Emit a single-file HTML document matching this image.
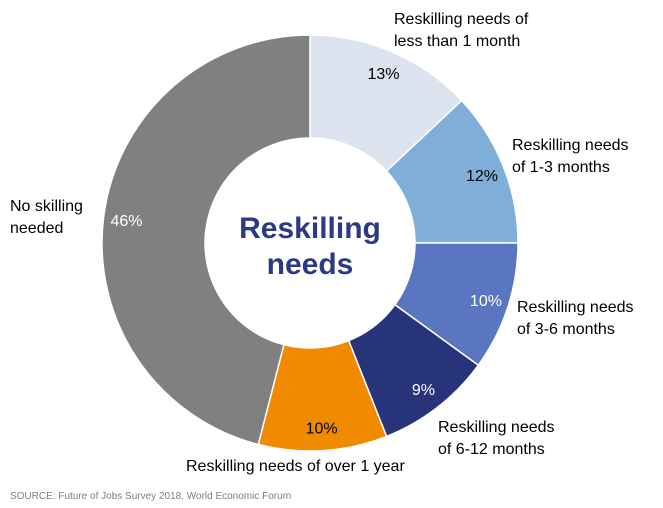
<!DOCTYPE html>
<html><head><meta charset="utf-8"><style>
body{margin:0;background:#fff;font-family:"Liberation Sans",Arial,sans-serif;}
svg{display:block}
</style></head><body>
<svg width="663" height="508">
<g id="slices"></g>
<g id="pcts"></g>
<g font-size="16" fill="#000">
<text x="394" y="24">Reskilling needs of</text>
<text x="394" y="46">less than 1 month</text>
<text x="512" y="150">Reskilling needs</text>
<text x="512" y="172">of 1-3 months</text>
<text x="517" y="312">Reskilling needs</text>
<text x="517" y="334">of 3-6 months</text>
<text x="438" y="432">Reskilling needs</text>
<text x="438" y="454">of 6-12 months</text>
<text x="186" y="471">Reskilling needs of over 1 year</text>
<text x="10" y="211">No skilling</text>
<text x="10" y="233">needed</text>
</g>
<text x="310" y="238" text-anchor="middle" font-size="30" font-weight="bold" fill="#2b3a84">Reskilling</text>
<text x="310" y="274" text-anchor="middle" font-size="30" font-weight="bold" fill="#2b3a84">needs</text>
<text x="10" y="499" font-size="10" fill="#7f7f7f">SOURCE: Future of Jobs Survey 2018, World Economic Forum</text>
</svg>
<script>
const categories=["Less than 1 month","1-3 months","3-6 months","6-12 months","Over 1 year","No skilling needed"];
const values=[13,12,10,9,10,46];
const pctLabels=["13%","12%","10%","9%","10%","46%"];
const colors=["#dce3ee","#7faed9","#5a76c0","#27347a","#f08a00","#808080"];
const textColors=["#000","#000","#fff","#fff","#000","#fff"];
const cx=310,cy=243,R=208,r=105,LR=185;
const NS="http://www.w3.org/2000/svg";
const total=values.reduce((a,b)=>a+b,0);
function pt(a,rad){return [cx+rad*Math.sin(a),cy-rad*Math.cos(a)];}
let acc=0;
const gs=document.getElementById('slices'),gp=document.getElementById('pcts');
values.forEach((v,i)=>{
 const a0=acc/total*2*Math.PI;acc+=v;const a1=acc/total*2*Math.PI;
 const large=(a1-a0)>Math.PI?1:0;
 const [x0,y0]=pt(a0,R),[x1,y1]=pt(a1,R),[x2,y2]=pt(a1,r),[x3,y3]=pt(a0,r);
 const p=document.createElementNS(NS,'path');
 p.setAttribute('d',`M${x0},${y0}A${R},${R} 0 ${large} 1 ${x1},${y1}L${x2},${y2}A${r},${r} 0 ${large} 0 ${x3},${y3}Z`);
 p.setAttribute('fill',colors[i]);p.setAttribute('stroke','#fff');p.setAttribute('stroke-width','1.5');
 
 
 gs.appendChild(p);
 const [lx,ly]=pt((a0+a1)/2,LR);
 const t=document.createElementNS(NS,'text');
 t.setAttribute('x',lx);t.setAttribute('y',ly+6);t.setAttribute('text-anchor','middle');
 t.setAttribute('font-size','16');t.setAttribute('fill',textColors[i]);
 t.textContent=pctLabels[i];
 
 
 gp.appendChild(t);
});
</script>
</body></html>
